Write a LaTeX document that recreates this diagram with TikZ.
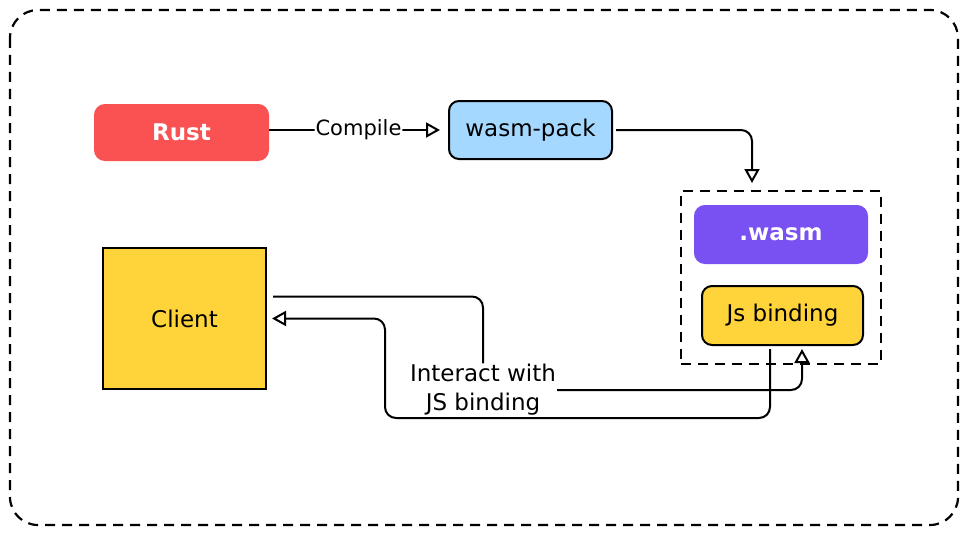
\documentclass[tikz,border=0pt]{standalone}
\usepackage{fontspec}
\setmainfont{DejaVu Sans}
\usetikzlibrary{arrows.meta,positioning}
\definecolor{rustred}{HTML}{FA5252}
\definecolor{packblue}{HTML}{A5D8FF}
\definecolor{wasmpurple}{HTML}{7950F2}
\definecolor{bindyellow}{HTML}{FFD43B}
\begin{document}
\begin{tikzpicture}[x=1pt,y=-1pt,
  every node/.style={font=\fontsize{23}{29}\selectfont},
  box/.style={draw=black, line width=2pt, rounded corners=10pt, inner sep=0pt},
  link/.style={line width=2pt, rounded corners=11pt, -{Triangle[open,length=14pt,width=15pt,line width=2pt]}}]
\useasboundingbox (0,0) rectangle (967,535);
\draw [line width=2.2pt, dash pattern=on 10pt off 7pt, rounded corners=28pt] (10,10) rectangle (958,525);
\node[box, fill=rustred, draw=rustred, text=white, minimum width=173pt, minimum height=55pt] (rust) at (181.5,132.5) {\textbf{Rust}};
\node[box, fill=packblue, minimum width=163pt, minimum height=58pt] (pack) at (530.5,130) {wasm-pack};
\node[draw, line width=2pt, dash pattern=on 10pt off 7pt, minimum width=200pt, minimum height=173pt] (bundle) at (781,277.5) {};
\node[box, fill=wasmpurple, draw=wasmpurple, text=white, minimum width=172pt, minimum height=57pt] (wasm) at (781,234.5) {\textbf{.wasm}};
\node[box, fill=bindyellow, minimum width=161pt, minimum height=59pt] (jsbind) at (782.5,315.5) {Js binding};
\node[box, fill=bindyellow, rounded corners=0pt, minimum width=163pt, minimum height=141pt] (client) at (184.5,318.5) {Client};
\draw [link, shorten >=8pt] (rust.east |- pack.west) -- node[fill=white, inner sep=1pt, font=\fontsize{21}{24}\selectfont] {Compile} (pack.west);
\draw [link, shorten <=3pt, shorten >=7pt] (pack.east) -| ([xshift=-29pt]bundle.north);
\draw [link, shorten <=6pt, shorten >=3pt] ([yshift=22pt]client.east) -| (483,390)
  node[fill=white, align=center, inner sep=1pt] {Interact with\\JS binding} -| ([xshift=19.5pt]jsbind.south);
\draw [link, shorten <=3pt, shorten >=5pt] ([xshift=-12.5pt]jsbind.south) |- (385,418) |- (client.east);
\end{tikzpicture}
\end{document}
